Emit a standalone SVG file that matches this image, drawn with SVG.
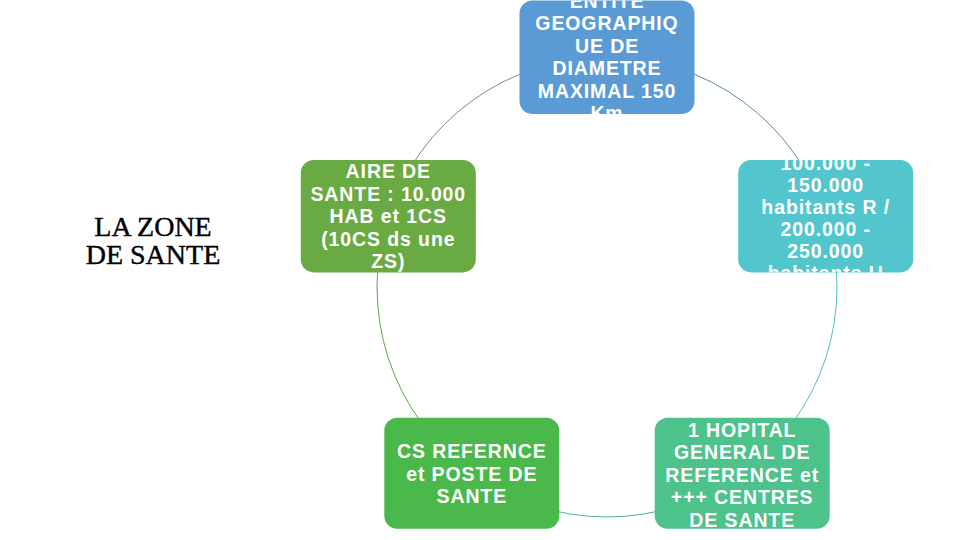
<svg xmlns="http://www.w3.org/2000/svg" width="960" height="540" viewBox="0 0 960 540">
<style>
.t{font-family:"Liberation Sans",Arial,sans-serif;font-weight:bold;font-size:19.5px;letter-spacing:0.9px;fill:#fff;text-anchor:middle}
.arc{fill:none;stroke-width:1}
.title{font-family:"Liberation Serif","Times New Roman",serif;font-size:28px;fill:#000;stroke:#000;stroke-width:0.4;text-anchor:middle}
</style>
<defs>
<clipPath id="c1"><rect x="519.5" y="0.5" width="175" height="113.5" rx="13"/></clipPath>
<clipPath id="c2"><rect x="738.2" y="159.9" width="175" height="112.5" rx="13"/></clipPath>
<clipPath id="c3"><rect x="654.7" y="417.8" width="175" height="111" rx="13"/></clipPath>
<clipPath id="c4"><rect x="384.3" y="417.8" width="175" height="111" rx="13"/></clipPath>
<clipPath id="c5"><rect x="300.8" y="159.9" width="175" height="112.5" rx="13"/></clipPath>
</defs>
<rect width="960" height="540" fill="#fff"/>
<text class="title" x="153" y="236">LA ZONE</text>
<text class="title" x="153" y="264">DE SANTE</text>
<g id="connectors">
<path class="arc" stroke="#5E8A9E" d="M607 57A230 230 0 0 1 825.74 215.93"/>
<path class="arc" stroke="#4FC0C8" d="M825.74 215.93A230 230 0 0 1 742.19 473.07"/>
<path class="arc" stroke="#4DB496" d="M742.19 473.07A230 230 0 0 1 471.81 473.07"/>
<path class="arc" stroke="#5AA84C" d="M471.81 473.07A230 230 0 0 1 388.26 215.93"/>
<path class="arc" stroke="#7E8E6C" d="M388.26 215.93A230 230 0 0 1 607 57"/>
</g>
<g id="n1">
<rect x="519.5" y="0.5" width="175" height="113.5" rx="13" fill="#5B9BD5"/>
<g clip-path="url(#c1)" class="t">
<text x="607" y="7.5">ENTITE</text>
<text x="607" y="30">GEOGRAPHIQ</text>
<text x="607" y="52.5">UE DE</text>
<text x="607" y="75">DIAMETRE</text>
<text x="607" y="97.5">MAXIMAL 150</text>
<text x="607" y="120">Km</text>
</g>
</g>
<g id="n2">
<rect x="738.2" y="159.9" width="175" height="112.5" rx="13" fill="#52C6CC"/>
<g clip-path="url(#c2)" class="t">
<text x="825.7" y="169.5">100.000 -</text>
<text x="825.7" y="191.5">150.000</text>
<text x="825.7" y="213.5">habitants R /</text>
<text x="825.7" y="235.5">200.000 -</text>
<text x="825.7" y="257.5">250.000</text>
<text x="825.7" y="279.5">habitants U</text>
</g>
</g>
<g id="n3">
<rect x="654.7" y="417.8" width="175" height="111" rx="13" fill="#4DC28A"/>
<g clip-path="url(#c3)" class="t">
<text x="742.2" y="436.5">1 HOPITAL</text>
<text x="742.2" y="459">GENERAL DE</text>
<text x="742.2" y="481.5">REFERENCE et</text>
<text x="742.2" y="504">+++ CENTRES</text>
<text x="742.2" y="526.5">DE SANTE</text>
</g>
</g>
<g id="n4">
<rect x="384.3" y="417.8" width="175" height="111" rx="13" fill="#4BB84B"/>
<g clip-path="url(#c4)" class="t">
<text x="471.8" y="458">CS REFERNCE</text>
<text x="471.8" y="480.5">et POSTE DE</text>
<text x="471.8" y="503">SANTE</text>
</g>
</g>
<g id="n5">
<rect x="300.8" y="159.9" width="175" height="112.5" rx="13" fill="#6AAA43"/>
<g clip-path="url(#c5)" class="t">
<text x="388.3" y="178">AIRE DE</text>
<text x="388.3" y="200.5">SANTE : 10.000</text>
<text x="388.3" y="223">HAB et 1CS</text>
<text x="388.3" y="245.5">(10CS ds une</text>
<text x="388.3" y="268">ZS)</text>
</g>
</g>
</svg>
